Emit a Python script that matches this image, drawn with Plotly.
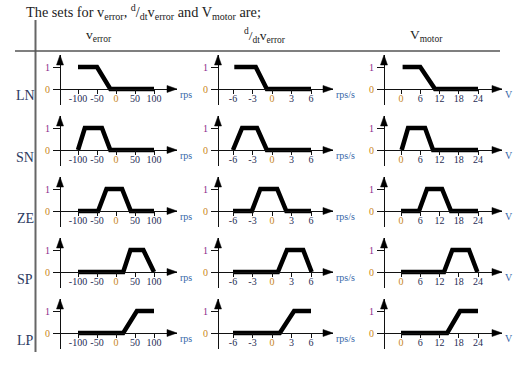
import plotly.graph_objects as go

# ---------------- data ----------------
row_labels = ["LN", "SN", "ZE", "SP", "LP"]

verror_ticks = [-100, -50, 0, 50, 100]
verror_x = [
    [-100, -50, -15, 100],
    [-100, -82, -37, -15, 100],
    [-100, -47, -25, 16, 39, 100],
    [-100, 19, 38, 72, 100],
    [-100, 19, 55, 100],
]
verror_y = [
    [1, 1, 0, 0],
    [0, 1, 1, 0, 0],
    [0, 0, 1, 1, 0, 0],
    [0, 0, 1, 1, 0],
    [0, 0, 1, 1],
]

dverror_ticks = [-6, -3, 0, 3, 6]
dverror_x = [
    [-5.8, -2.5, -0.8, 6],
    [-6, -4.6, -2.3, -0.8, 6],
    [-6, -3.1, -1.8, 0.8, 2.2, 6],
    [-6, 0.9, 2.3, 4.8, 6.1],
    [-6, 1.2, 3.4, 6],
]
dverror_y = [
    [1, 1, 0, 0],
    [0, 1, 1, 0, 0],
    [0, 0, 1, 1, 0, 0],
    [0, 0, 1, 1, 0],
    [0, 0, 1, 1],
]

vmotor_ticks = [0, 6, 12, 18, 24]
vmotor_x = [
    [0.5, 6, 10.6, 24],
    [0.2, 2.2, 7.5, 10, 24],
    [0, 5.6, 8.1, 12.8, 15.6, 24],
    [0, 13.4, 16, 21.2, 23.8],
    [0, 14.4, 18.4, 24],
]
vmotor_y = [
    [1, 1, 0, 0],
    [0, 1, 1, 0, 0],
    [0, 0, 1, 1, 0, 0],
    [0, 0, 1, 1, 0],
    [0, 0, 1, 1],
]

title_text = ("The sets for v<sub>error</sub>, <sup>d</sup>/<sub>dt</sub>v<sub>error</sub> "
              "and V<sub>motor</sub> are;")
col_headers = ["v<sub>error</sub>",
               "<sup>d</sup>/<sub>dt</sub>v<sub>error</sub>",
               "V<sub>motor</sub>"]
units = ["rps", "rps/s", "V"]

# ---------------- layout geometry (pixels) ----------------
W, H = 528, 376
FONT = "Liberation Serif, Times New Roman, serif"
NAVY = "#1f2d55"
ORANGE = "#c8861a"
PURPLE = "#8a2a8a"
BLUE = "#3566a8"

col_geo = [
    # y-axis px, x-line left px, arrow tip px, calibration (v0, px0, v1, px1), header centre px
    dict(axis=60, left=54, tip=177, cal=(-100, 78, 100, 154), head=99),
    dict(axis=218, left=212, tip=333, cal=(-6, 233, 6, 311), head=265),
    dict(axis=384, left=378, tip=502, cal=(0, 401, 24, 478), head=426),
]
row_zero = [89, 150, 211, 272, 333]
UNIT = 22.0
ABOVE = 34.0
BELOW = 16.0
HEAD_LEN = 10.0
HEAD_HALF = 3.5

cols = [
    (verror_x, verror_y, verror_ticks),
    (dverror_x, dverror_y, dverror_ticks),
    (vmotor_x, vmotor_y, vmotor_ticks),
]


def fx(px):
    return px / W


def fy(py):
    return 1 - py / H


def tick_label(t):
    c = ORANGE if t == 0 else NAVY
    return f'<span style="color:{c}">{t}</span>'


def tri_path(p1, p2, p3):
    pts = [p1, p2, p3]
    return "M " + " L ".join(f"{fx(a):.5f},{fy(b):.5f}" for a, b in pts) + " Z"


fig = go.Figure()
annotations = []
shapes = []
layout_axes = {}
idx = 0
for c, (xs_all, ys_all, ticks) in enumerate(cols):
    g = col_geo[c]
    v0, p0, v1, p1 = g["cal"]
    scale = (p1 - p0) / (v1 - v0)

    def px2v(px, v0=v0, p0=p0, scale=scale):
        return v0 + (px - p0) / scale

    xr = [px2v(g["left"]), px2v(g["tip"])]
    for r in range(5):
        idx += 1
        xa = "x" if idx == 1 else f"x{idx}"
        ya = "y" if idx == 1 else f"y{idx}"
        xkey = "xaxis" if idx == 1 else f"xaxis{idx}"
        ykey = "yaxis" if idx == 1 else f"yaxis{idx}"
        z = row_zero[r]
        layout_axes[xkey] = dict(
            domain=[fx(g["left"]), fx(g["tip"])], range=xr, anchor="free",
            position=fy(z), showline=True, linecolor="#111", linewidth=1.2,
            ticks="outside", ticklen=4, tickwidth=1, tickcolor="#111",
            ticklabelstandoff=-4,
            tickvals=ticks, ticktext=[tick_label(t) for t in ticks],
            tickfont=dict(family=FONT, size=10, color=NAVY),
            showgrid=False, zeroline=False, fixedrange=True,
        )
        layout_axes[ykey] = dict(
            domain=[fy(z + BELOW), fy(z - ABOVE)],
            range=[-BELOW / UNIT, ABOVE / UNIT], anchor="free",
            position=fx(g["axis"]), showline=True, linecolor="#111", linewidth=1.2,
            ticks="outside", ticklen=7, tickwidth=1, tickcolor="#111",
            ticklabelstandoff=1,
            tickvals=[0, 1],
            ticktext=[f'<span style="color:{ORANGE}">0</span>',
                      f'<span style="color:{PURPLE}">1</span>'],
            tickfont=dict(family=FONT, size=10),
            showgrid=False, zeroline=False, fixedrange=True,
        )
        fig.add_trace(go.Scatter(
            x=xs_all[r], y=ys_all[r], xaxis=xa, yaxis=ya, mode="lines",
            line=dict(color="black", width=4.5), showlegend=False,
            hoverinfo="skip",
        ))
        # x-axis arrow head
        tx, ty = g["tip"], z
        shapes.append(dict(
            type="path", xref="paper", yref="paper",
            path=tri_path((tx, ty), (tx - HEAD_LEN, ty - HEAD_HALF), (tx - HEAD_LEN, ty + HEAD_HALF)),
            fillcolor="#000", line=dict(color="#000", width=0.5),
        ))
        # y-axis arrow head
        ax_, ay_ = g["axis"], z - ABOVE
        shapes.append(dict(
            type="path", xref="paper", yref="paper",
            path=tri_path((ax_, ay_), (ax_ - HEAD_HALF, ay_ + HEAD_LEN), (ax_ + HEAD_HALF, ay_ + HEAD_LEN)),
            fillcolor="#000", line=dict(color="#000", width=0.5),
        ))
        # unit label
        annotations.append(dict(
            x=1, y=0, xref=f"{xa} domain", yref=ya, xanchor="left",
            yanchor="middle", xshift=1, yshift=-5, showarrow=False,
            text=f'<span style="color:{BLUE}">{units[c]}</span>',
            font=dict(family=FONT, size=10, color=BLUE),
        ))

# row labels
for r, lab in enumerate(row_labels):
    annotations.append(dict(
        x=fx(25), y=fy(row_zero[r] + 7), xref="paper", yref="paper",
        xanchor="center", yanchor="middle", showarrow=False,
        text=f'<span style="color:#2c3a60">{lab}</span>',
        font=dict(family=FONT, size=14, color="#2c3a60"),
    ))

# column headers
for c, h in enumerate(col_headers):
    annotations.append(dict(
        x=fx(col_geo[c]["head"]), y=fy(36), xref="paper", yref="paper",
        xanchor="center", yanchor="middle", showarrow=False, text=h,
        font=dict(family=FONT, size=13.5, color="#222"),
    ))

# title
annotations.append(dict(
    x=fx(24), y=fy(12), xref="paper", yref="paper", xanchor="left",
    yanchor="middle", showarrow=False, text=title_text,
    font=dict(family=FONT, size=14.3, color="#222"),
))

shapes += [
    dict(type="line", xref="paper", yref="paper", x0=fx(35.5), x1=fx(35.5),
         y0=fy(20), y1=fy(352), line=dict(color="#666", width=2)),
    dict(type="line", xref="paper", yref="paper", x0=fx(15), x1=fx(500),
         y0=fy(51), y1=fy(51), line=dict(color="#555", width=1.5)),
]

fig.update_layout(
    width=W, height=H, margin=dict(l=0, r=0, t=0, b=0),
    paper_bgcolor="white", plot_bgcolor="rgba(0,0,0,0)",
    annotations=annotations, shapes=shapes, showlegend=False,
    **layout_axes,
)

fig.write_html("out.html", config={"displayModeBar": False},
               post_script="document.body.style.margin='0';")
